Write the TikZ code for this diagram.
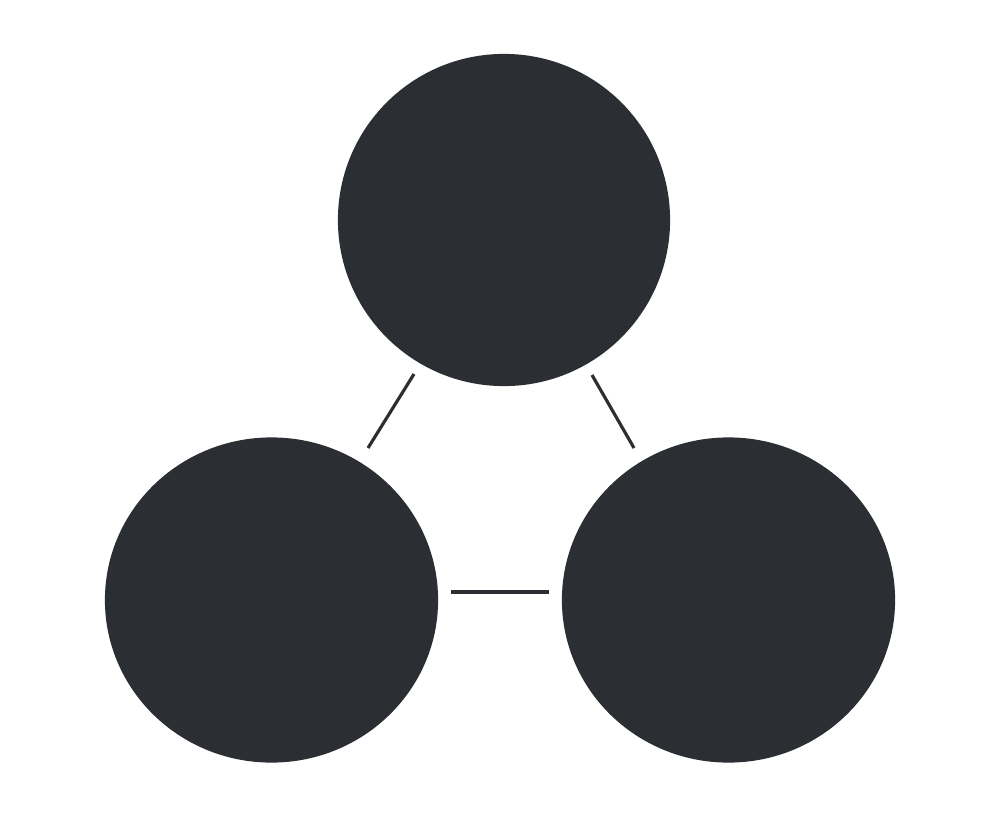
\documentclass[tikz,border=0pt]{standalone}
\usetikzlibrary{shapes.geometric}
\definecolor{disc}{HTML}{2B2E33}
\begin{document}
\begin{tikzpicture}[x=0.01cm,y=-0.01cm,
  discnode/.style={ellipse,fill=disc,draw=none,inner sep=0pt},
  link/.style={draw=disc,line width=0.9pt}]
\useasboundingbox[fill=white] (0,0) rectangle (1000,833);
\node[discnode,minimum width=3.32cm,minimum height=3.32cm] (top) at (504,220) {};
\node[discnode,minimum width=3.33cm,minimum height=3.25cm] (left) at (271.5,600) {};
\node[discnode,minimum width=3.33cm,minimum height=3.25cm] (right) at (728.5,600) {};
\coordinate (tl1) at (414,374);
\coordinate (tl2) at (368,448);
\coordinate (tr1) at (592,375);
\coordinate (tr2) at (634,448);
\coordinate (b1) at (451,592);
\coordinate (b2) at (549,592);
\draw[link] (tl1) -- (tl2);
\draw[link] (tr1) -- (tr2);
\draw[link] (b1) -- (b2);
\end{tikzpicture}
\end{document}
